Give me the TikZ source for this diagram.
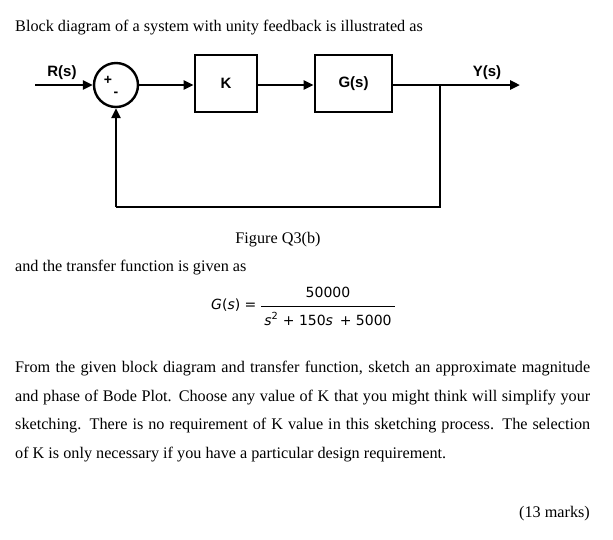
\documentclass[tikz,border=0pt]{standalone}
\usepackage{fontspec}
\setmainfont{Liberation Serif}
\newfontfamily\blocksans{Liberation Sans}
\newfontfamily\eqsans{DejaVu Sans}
\usetikzlibrary{arrows.meta}
\begin{document}
\begin{tikzpicture}[x=1pt,y=-1pt,
  sig/.style={line width=2.8pt,-{Triangle[length=10pt,width=9pt]}},
  wire/.style={line width=2.8pt},
  block/.style={draw,line width=2.8pt,minimum width=62pt,minimum height=57pt,font=\blocksans\bfseries\fontsize{15}{17}\selectfont},
  lbl/.style={font=\blocksans\bfseries\fontsize{15}{17}\selectfont},
  body/.style={font=\fontsize{16.2}{19}\selectfont,inner sep=0pt}]
  \useasboundingbox (0,0) rectangle (613,539);
  % Heading
  \node[body,anchor=west] (head) at (15,28) {Block diagram of a system with unity feedback is illustrated as};
  % Blocks
  \coordinate (in) at (35,85);
  \node[draw,circle,line width=2.4pt,minimum size=44pt,inner sep=0pt] (sum) at (116,85) {};
  \node[lbl,font=\blocksans\bfseries\fontsize{14}{15}\selectfont] (plus) at (108,80) {+};
  \node[lbl,font=\blocksans\bfseries\fontsize{14}{15}\selectfont] (minus) at (116,94) {-};
  \node[block] (K) at (226,83.5) {K};
  \node[block,minimum width=77pt] (G) at (353.5,83.5) {G(s)};
  \coordinate (branch) at (440,85);
  \coordinate (out) at (520,85);
  \coordinate (low) at (440,207);
  \coordinate (back) at (116,207);
  \node[lbl] (R) at (62,73) {R(s)};
  \node[lbl] (Y) at (487,73) {Y(s)};
  % Connectors
  \draw[sig] (in) -- (sum.west);
  \draw[sig] (sum.east) -- (K.west |- sum.east);
  \draw[sig] (K.east |- sum.east) -- (G.west |- sum.east);
  \draw[sig] (G.east |- sum.east) -- (out);
  \draw[wire] (branch) -- (low) -- (back);
  \draw[sig] (back) -- (sum.south);
  % Caption and text
  \node[body] (cap) at (278,240) {Figure Q3(b)};
  \node[body,anchor=west] (given) at (15,268) {and the transfer function is given as};
  \node[font=\eqsans\fontsize{14}{15}\selectfont,anchor=east] (lhs) at (260,305) {\textit{G}(\textit{s}) =};
  \node[font=\eqsans\fontsize{14}{15}\selectfont] (num) at (328,292) {50000};
  \draw[line width=0.7pt] (261,306) -- (395,306);
  \node[font=\eqsans\fontsize{14}{15}\selectfont] (den) at (328,319) {\textit{s}\textsuperscript{2} + 150\textit{s} \,+ 5000};
  \node[body,anchor=north west,text width=575pt,align=justify,font=\fontsize{16.2}{28.5}\selectfont] (para) at (15,361)
    {From the given block diagram and transfer function, sketch an approximate magnitude\linebreak
     and phase of Bode Plot. Choose any value of K that you might think will simplify your\linebreak
     sketching. There is no requirement of K value in this sketching process. The selection\linebreak
     of K is only necessary if you have a particular design requirement.};
  \node[body,anchor=east] (marks) at (590,514) {(13 marks)};
\end{tikzpicture}
\end{document}
